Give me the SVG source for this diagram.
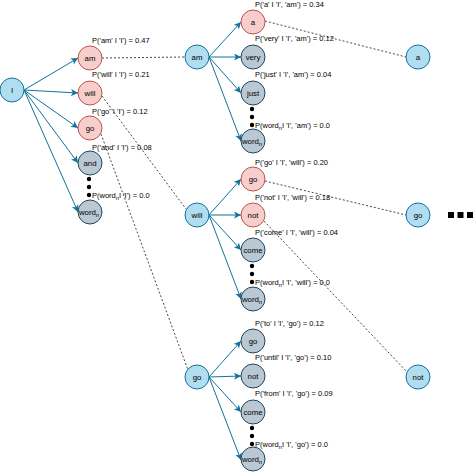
<svg xmlns="http://www.w3.org/2000/svg" width="474" height="472" viewBox="0 0 474 472">
<style>
text{font-family:"Liberation Sans",Arial,Helvetica,sans-serif;fill:#000}
.n{font-size:7.8px;text-anchor:middle}
.lb{font-size:7.5px}
.sub{font-size:5.8px}
.blue{fill:#b1ddf0;stroke:#10739e;stroke-width:1}
.pink{fill:#f8cecc;stroke:#b85450;stroke-width:1}
.gray{fill:#bac8d3;stroke:#23445d;stroke-width:1}
.ar{stroke:#10739e;stroke-width:1;fill:none;marker-end:url(#ah)}
.ds{stroke:#333;stroke-width:0.9;fill:none;stroke-dasharray:2,2}
.dot{fill:#000}
</style>
<defs>
<marker id="ah" markerUnits="userSpaceOnUse" markerWidth="8" markerHeight="8" refX="7" refY="3.5" orient="auto">
<path d="M0,0 L7,3.5 L0,7 L1.8,3.5 z" fill="#10739e"/>
</marker>
</defs>
<g id="connectors">
<path class="ar" d="M24,90 L78,58"/>
<path class="ar" d="M24,90 L78,93"/>
<path class="ar" d="M24,90 L78,128"/>
<path class="ar" d="M24,90 L78,163"/>
<path class="ar" d="M24,90 L78,212"/>
<path class="ar" d="M209,57 L241,22"/>
<path class="ar" d="M209,57 L241,57"/>
<path class="ar" d="M209,57 L241,93"/>
<path class="ar" d="M209,57 L241,141"/>
<path class="ar" d="M209,215 L241,179"/>
<path class="ar" d="M209,215 L241,215"/>
<path class="ar" d="M209,215 L241,250"/>
<path class="ar" d="M209,215 L241,299"/>
<path class="ar" d="M209,377 L241,341"/>
<path class="ar" d="M209,377 L241,376"/>
<path class="ar" d="M209,377 L241,412"/>
<path class="ar" d="M209,377 L241,460"/>
<path class="ds" d="M102,58 L185,57"/>
<path class="ds" d="M102,96 L186,209"/>
<path class="ds" d="M101,134 L188,370"/>
<path class="ds" d="M265,21 L406,57"/>
<path class="ds" d="M265,181 L406,215"/>
<path class="ds" d="M264,221 L407,372"/>
</g>
<g id="node-I"><circle class="blue" cx="12" cy="90" r="12"/><text class="n" x="12" y="92.7">I</text></g>
<g id="node-am1"><circle class="pink" cx="90" cy="58" r="12"/><text class="n" x="90" y="60.7">am</text></g>
<g id="node-will1"><circle class="pink" cx="90" cy="93" r="12"/><text class="n" x="90" y="95.7">will</text></g>
<g id="node-go1"><circle class="pink" cx="90" cy="128" r="12"/><text class="n" x="90" y="130.7">go</text></g>
<g id="node-and1"><circle class="gray" cx="90" cy="163" r="12"/><text class="n" x="90" y="165.7">and</text></g>
<g id="node-wordn1"><circle class="gray" cx="90" cy="212" r="12"/><text class="n" x="89" y="214.7">word<tspan class="sub" dy="2">n</tspan></text></g>
<g id="dots1"><circle class="dot" cx="89" cy="179" r="2.2"/><circle class="dot" cx="89" cy="187" r="2.2"/><circle class="dot" cx="89" cy="195" r="2.2"/></g>
<g id="labels1">
<text class="lb" x="92" y="42.5">P('am' I 'I') = 0.47</text>
<text class="lb" x="92" y="76.5">P('will' I 'I') = 0.21</text>
<text class="lb" x="92" y="113.5">P('go' I 'I') = 0.12</text>
<text class="lb" x="92" y="149.5">P('and' I 'I') = 0.08</text>
<text class="lb" x="92" y="197.5">P(word<tspan class="sub" dy="2">n</tspan><tspan dy="-2">I 'I') = 0.0</tspan></text>
</g>
<g id="node-am2"><circle class="blue" cx="197" cy="57" r="12"/><text class="n" x="197" y="59.7">am</text></g>
<g id="node-will2"><circle class="blue" cx="197" cy="215" r="12"/><text class="n" x="197" y="217.7">will</text></g>
<g id="node-go2"><circle class="blue" cx="197" cy="377" r="12"/><text class="n" x="197" y="379.7">go</text></g>
<g id="node-a3"><circle class="pink" cx="253" cy="22" r="12"/><text class="n" x="253" y="24.7">a</text></g>
<g id="node-very3"><circle class="gray" cx="253" cy="57" r="12"/><text class="n" x="253" y="59.7">very</text></g>
<g id="node-just3"><circle class="gray" cx="253" cy="93" r="12"/><text class="n" x="253" y="95.7">just</text></g>
<g id="node-wordn3a"><circle class="gray" cx="253" cy="141" r="12"/><text class="n" x="252" y="143.7">word<tspan class="sub" dy="2">n</tspan></text></g>
<g id="dots3a"><circle class="dot" cx="252" cy="109" r="2.2"/><circle class="dot" cx="252" cy="117" r="2.2"/><circle class="dot" cx="252" cy="125" r="2.2"/></g>
<g id="node-go3w"><circle class="pink" cx="253" cy="179" r="12"/><text class="n" x="253" y="181.7">go</text></g>
<g id="node-not3w"><circle class="pink" cx="253" cy="215" r="12"/><text class="n" x="253" y="217.7">not</text></g>
<g id="node-come3w"><circle class="gray" cx="253" cy="250" r="12"/><text class="n" x="253" y="252.7">come</text></g>
<g id="node-wordn3w"><circle class="gray" cx="253" cy="299" r="12"/><text class="n" x="252" y="301.7">word<tspan class="sub" dy="2">n</tspan></text></g>
<g id="dots3w"><circle class="dot" cx="252" cy="266" r="2.2"/><circle class="dot" cx="252" cy="274" r="2.2"/><circle class="dot" cx="252" cy="282" r="2.2"/></g>
<g id="node-go3g"><circle class="gray" cx="253" cy="341" r="12"/><text class="n" x="253" y="343.7">go</text></g>
<g id="node-not3g"><circle class="gray" cx="253" cy="376" r="12"/><text class="n" x="253" y="378.7">not</text></g>
<g id="node-come3g"><circle class="gray" cx="253" cy="412" r="12"/><text class="n" x="253" y="414.7">come</text></g>
<g id="node-wordn3g"><circle class="gray" cx="253" cy="459" r="12"/><text class="n" x="252" y="461.7">word<tspan class="sub" dy="2">n</tspan></text></g>
<g id="dots3g"><circle class="dot" cx="252" cy="428" r="2.2"/><circle class="dot" cx="252" cy="436" r="2.2"/><circle class="dot" cx="252" cy="444" r="2.2"/></g>
<g id="labels2">
<text class="lb" x="255" y="6.5">P('a' I 'I', 'am') = 0.34</text>
<text class="lb" x="255" y="40.5">P('very' I 'I', 'am') = 0.12</text>
<text class="lb" x="255" y="76.5">P('just' I 'I', 'am') = 0.04</text>
<text class="lb" x="255" y="127.5">P(word<tspan class="sub" dy="2">n</tspan><tspan dy="-2">I 'I', 'am') = 0.0</tspan></text>
<text class="lb" x="255" y="164.5">P('go' I 'I', 'will') = 0.20</text>
<text class="lb" x="255" y="199.5">P('not' I 'I', 'will') = 0.18</text>
<text class="lb" x="255" y="234.5">P('come' I 'I', 'will') = 0.04</text>
<text class="lb" x="255" y="284.5">P(word<tspan class="sub" dy="2">n</tspan><tspan dy="-2">I 'I', 'will') = 0.0</tspan></text>
<text class="lb" x="255" y="325.5">P('to' I 'I', 'go') = 0.12</text>
<text class="lb" x="255" y="359.5">P('until' I 'I', 'go') = 0.10</text>
<text class="lb" x="255" y="395.5">P('from' I 'I', 'go') = 0.09</text>
<text class="lb" x="255" y="446.5">P(word<tspan class="sub" dy="2">n</tspan><tspan dy="-2">I 'I', 'go') = 0.0</tspan></text>
</g>
<g id="node-a4"><circle class="blue" cx="418" cy="57" r="12"/><text class="n" x="418" y="59.7">a</text></g>
<g id="node-go4"><circle class="blue" cx="418" cy="215" r="12"/><text class="n" x="418" y="217.7">go</text></g>
<g id="node-not4"><circle class="blue" cx="418" cy="377" r="12"/><text class="n" x="418" y="379.7">not</text></g>
<g id="ellipsis"><rect x="448" y="212" width="6" height="6" fill="#000"/><rect x="457.5" y="212" width="6" height="6" fill="#000"/><rect x="467" y="212" width="6" height="6" fill="#000"/></g>
</svg>
